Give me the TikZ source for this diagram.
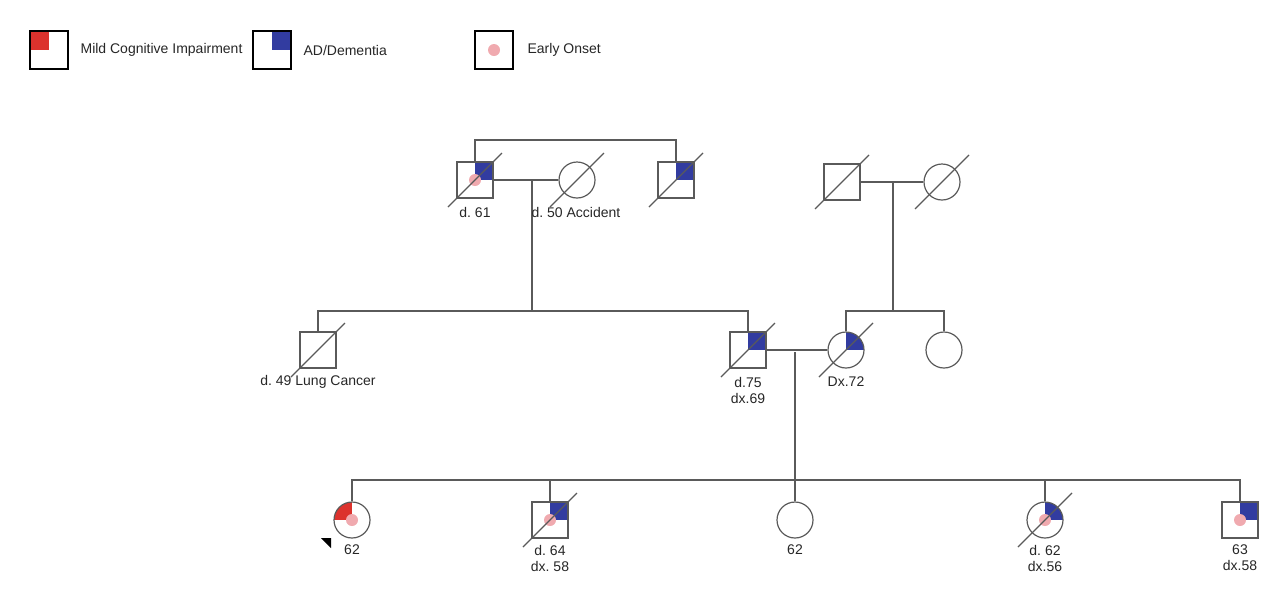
\documentclass[tikz,border=0pt]{standalone}
\usepackage{fontspec}
\setmainfont{Liberation Sans}
\usetikzlibrary{calc}
\definecolor{adb}{RGB}{50,60,160}
\definecolor{mcr}{RGB}{220,50,45}
\definecolor{eop}{RGB}{240,170,175}
\definecolor{ln}{RGB}{90,90,90}
\frenchspacing
\begin{document}
\begin{tikzpicture}[x=0.5pt,y=-0.5pt,line width=0.6pt,
 sq/.style={draw=ln,minimum size=18pt,inner sep=0pt},
 ci/.style={draw=ln,circle,minimum size=18pt,inner sep=0pt},
 lg/.style={draw=black,line width=0.9pt,minimum size=19pt,inner sep=0pt},
 ad/.style={path picture={\fill[adb] (path picture bounding box.center) rectangle (path picture bounding box.north east);}},
 adeo/.style={path picture={\fill[adb] (path picture bounding box.center) rectangle (path picture bounding box.north east);\fill[eop] (path picture bounding box.center) circle (3pt);}},
 mcieo/.style={path picture={\fill[mcr] (path picture bounding box.center) rectangle (path picture bounding box.north west);\fill[eop] (path picture bounding box.center) circle (3pt);}},
 mci/.style={path picture={\fill[mcr] (path picture bounding box.center) rectangle (path picture bounding box.north west);}},
 eo/.style={path picture={\fill[eop] (path picture bounding box.center) circle (3pt);}},
 txt/.style={font=\fontsize{7}{8}\selectfont,inner sep=0pt,align=center,text=black!85},
 rel/.style={draw=ln}]
\useasboundingbox (0,0) rectangle (1288,602);
% legend
\node[lg,mci] (l1) at (49,50) {};
\node[txt,anchor=west] (l1t) at (80,50) {Mild Cognitive Impairment};
\node[lg,ad] (l2) at (272,50) {};
\node[txt,anchor=west] (l2t) at (303,50) {AD/Dementia};
\node[lg,eo] (l3) at (494,50) {};
\node[txt,anchor=west] (l3t) at (527,50) {Early Onset};
% gen 1
\node[sq,adeo] (a1) at (475,180) {};
\node[ci] (a2) at (577,180) {};
\node[sq,ad] (a3) at (676,180) {};
\node[sq] (b1) at (842,182) {};
\node[ci] (b2) at (942,182) {};
\coordinate (t1) at (475,140); \coordinate (t3) at (676,140);
\draw[rel] (a1.north) -- (t1) -- (t3) -- (a3.north);
\draw[rel] (a1.east) -- (a2.west);
\draw[rel] (b1.east) -- (b2.west);
\coordinate (m1) at (532,180); \coordinate (d1) at (532,311);
\draw[rel] (m1) -- (d1);
\coordinate (m2) at (893,182); \coordinate (d2) at (893,311);
\draw[rel] (m2) -- (d2);
\node[txt] (a1t) at (475,212) {d. 61};
\node[txt,anchor=west] (a2t) at (531,212) {d. 50 Accident};
% gen 2
\node[sq] (c1) at (318,350) {};
\node[sq,ad] (c2) at (748,350) {};
\node[ci,ad] (c3) at (846,350) {};
\node[ci] (c4) at (944,350) {};
\draw[rel] (c1.north) |- (d1) -| (c2.north);
\draw[rel] (c3.north) |- (d2) -| (c4.north);
\draw[rel] (c2.east) -- (c3.west);
\coordinate (m3) at (795,352); \coordinate (d3) at (795,480);
\draw[rel] (m3) -- (d3);
\node[txt] (c1t) at (318,382) {d. 49 Lung Cancer};
\node[txt] (c2t) at (748,390) {d.75\\dx.69};
\node[txt] (c3t) at (846,382) {Dx.72};
% gen 3
\node[ci,mcieo] (e1) at (352,520) {};
\node[sq,adeo] (e2) at (550,520) {};
\node[ci] (e3) at (795,520) {};
\node[ci,adeo] (e4) at (1045,520) {};
\node[sq,adeo] (e5) at (1240,520) {};
\draw[rel] (e1.north) |- (d3) -| (e5.north);
\foreach \n in {e2,e3,e4} \draw[rel] (\n.north) -- (\n.north |- d3);
\node[txt] (e1t) at (352,550) {62};
\node[txt] (e2t) at (550,558) {d. 64\\dx. 58};
\node[txt] (e3t) at (795,550) {62};
\node[txt] (e4t) at (1045,558) {d. 62\\dx.56};
\node[txt] (e5t) at (1240,558) {63\\dx.58};
\fill[black] (321,538) -- (331,538) -- (331,548) -- cycle;
% deceased slashes
\foreach \n in {a1,a2,a3,b1,b2,c1,c2,c3,e2,e4}
  \draw[ln] ($(\n)+(-27,27)$) -- ($(\n)+(27,-27)$);
\end{tikzpicture}
\end{document}
